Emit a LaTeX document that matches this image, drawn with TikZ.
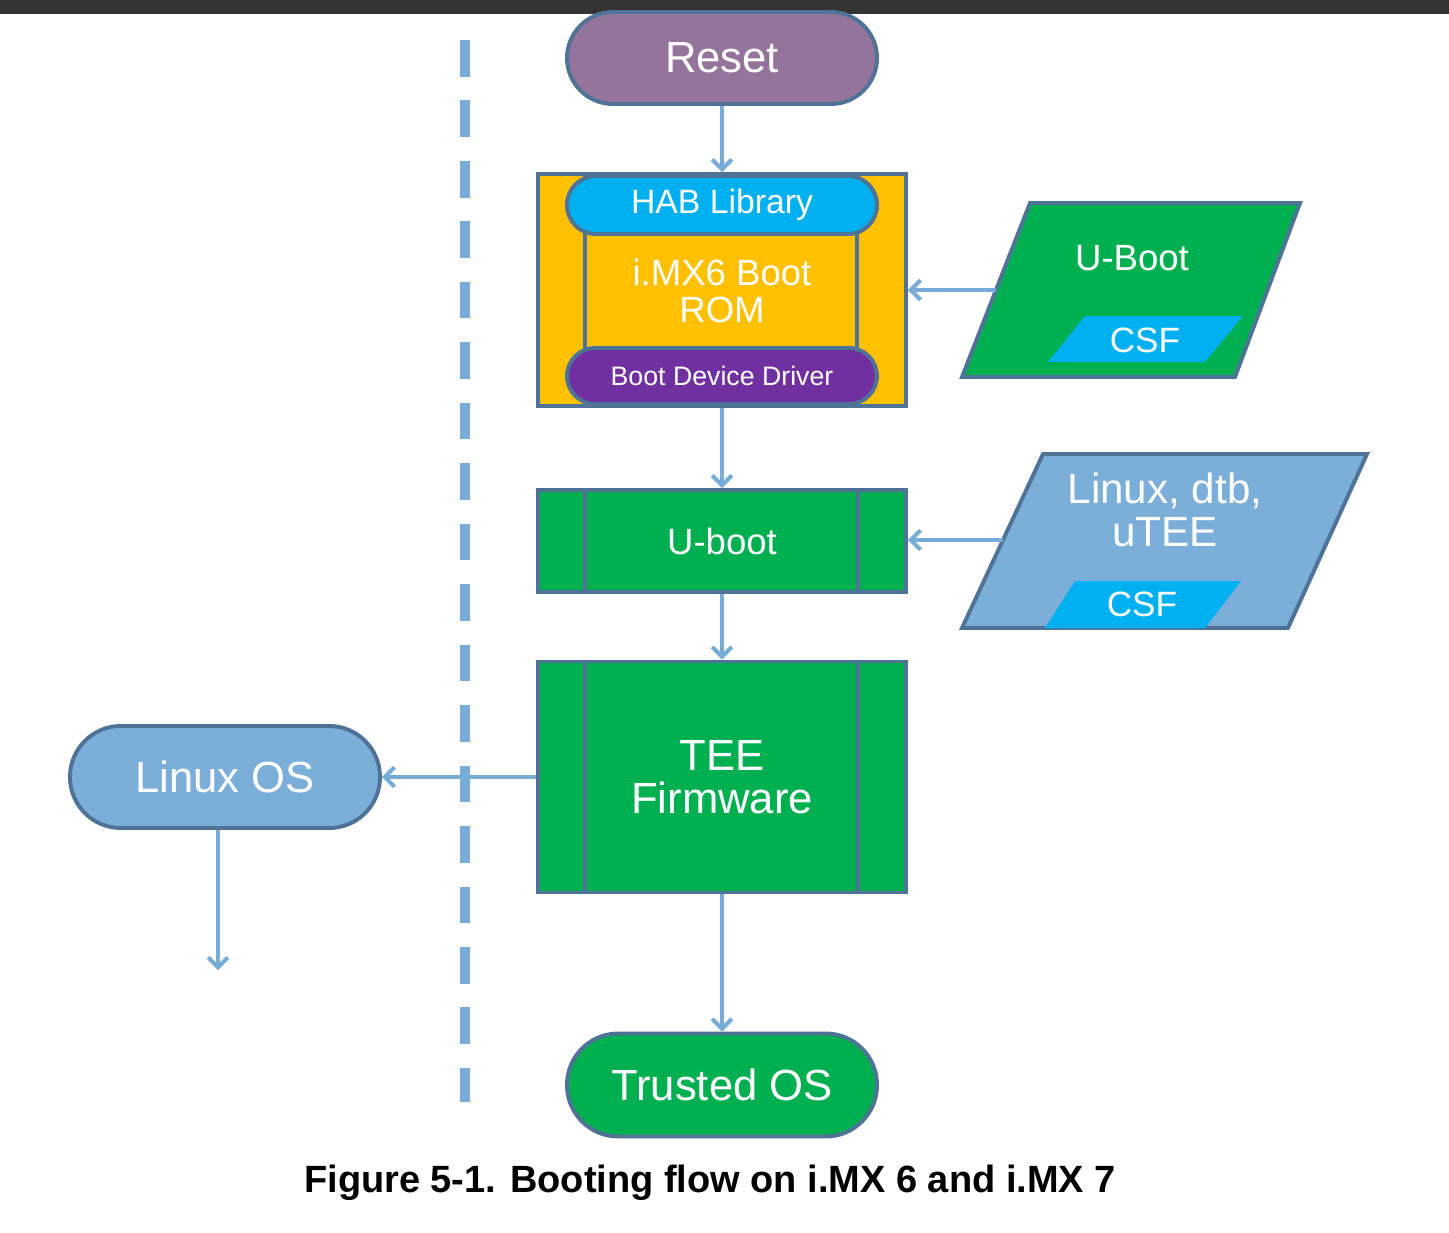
\documentclass[tikz,border=0pt]{standalone}
\usepackage{fontspec}
\setmainfont{Liberation Sans}
\usetikzlibrary{arrows.meta}
\definecolor{edge}{HTML}{4F7397}
\definecolor{arr}{HTML}{78ACD8}
\definecolor{purp}{HTML}{95749C}
\definecolor{gold}{HTML}{FFC000}
\definecolor{cyan}{HTML}{00B0F0}
\definecolor{viol}{HTML}{7030A0}
\definecolor{grn}{HTML}{00B050}
\definecolor{lblue}{HTML}{7BAED9}
\tikzset{
  box/.style={draw=edge, line width=2.8pt, text=white, align=center, inner sep=0pt},
  pill/.style={box, rounded corners=#1},
  flow/.style={draw=arr, line width=2.8pt, -{Straight Barb[length=7pt,width=14pt,line width=2.8pt]}},
  fsz/.style={font=\fontsize{#1}{#1*1.2}\selectfont}
}
\begin{document}
\begin{tikzpicture}[x=0.025cm,y=-0.025cm]
\useasboundingbox (0,0) rectangle (1449,1232);
\fill[white] (0,0) rectangle (1449,1232);
\fill[black!80] (0,0) rectangle (1449,14);
% dashed divider
\draw[arr, line width=7pt, dash pattern=on 26pt off 17pt] (465,40) -- (465,1102);

\node[pill=1.15cm, fill=purp, minimum width=310*0.025cm, minimum height=92*0.025cm, fsz=31pt] (reset) at (722,58) {Reset};

% boot rom
\node[box, fill=gold, minimum width=368*0.025cm, minimum height=232*0.025cm] (rom) at (722,290) {};
\draw[edge, line width=2.8pt] (585,176) -- (585,404) (857,176) -- (857,404);
\node[pill=0.72cm, fill=cyan, minimum width=310*0.025cm, minimum height=58*0.025cm, fsz=24pt] (hab) at (722,205) {HAB Library};
\node[pill=0.7cm, fill=viol, minimum width=310*0.025cm, minimum height=56*0.025cm, fsz=19pt] (bdd) at (722,376) {Boot Device Driver};
\node[text=white, align=center, fsz=26pt] (romt) at (722,291) {i.MX6 Boot\\ROM};

% u-boot image
\draw[edge, line width=2.8pt, fill=grn] (962,377) -- (1030,203) -- (1300,203) -- (1235,377) -- cycle;
\fill[cyan] (1048,362) -- (1085,316) -- (1243,316) -- (1205,362) -- cycle;
\node[text=white, fsz=26pt] (ubt) at (1132,258) {U-Boot};
\node[text=white, fsz=25pt] (csf1) at (1145,340) {CSF};
\coordinate (ubin) at (996,290);

% u-boot box
\node[box, fill=grn, minimum width=368*0.025cm, minimum height=102*0.025cm, fsz=26pt] (uboot) at (722,541) {U-boot};
\draw[edge, line width=2.8pt] (585,490) -- (585,592) (858,490) -- (858,592);

% linux image
\draw[edge, line width=2.8pt, fill=lblue] (962,628) -- (1043,454) -- (1367,454) -- (1288,628) -- cycle;
\fill[cyan] (1045,628) -- (1075,581) -- (1241,581) -- (1205,628) -- cycle;
\node[text=white, align=center, fsz=30pt] (lxt) at (1165,510) {Linux, dtb,\\uTEE};
\node[text=white, fsz=25pt] (csf2) at (1142,604) {CSF};
\coordinate (lxin) at (1003,540);

% TEE
\node[box, fill=grn, minimum width=368*0.025cm, minimum height=231*0.025cm, fsz=31pt] (tee) at (722,777) {TEE\\Firmware};
\draw[edge, line width=2.8pt] (585,662) -- (585,892) (858,662) -- (858,892);

\node[pill=1.27cm, fill=lblue, minimum width=310*0.025cm, minimum height=102*0.025cm, fsz=31pt] (linux) at (225,777) {Linux OS};
\node[pill=1.28cm, fill=grn, minimum width=310*0.025cm, minimum height=103*0.025cm, fsz=31pt] (tos) at (722,1085) {Trusted OS};
\coordinate (lxend) at (218,970);

\draw[flow] (reset) -- (rom);
\draw[flow] (ubin) -- (rom.east |- ubin);
\draw[flow] (rom) -- (uboot);
\draw[flow] (lxin) -- (uboot.east |- lxin);
\draw[flow] (uboot) -- (tee);
\draw[flow] (tee) -- (linux);
\draw[flow] (linux.south -| lxend) -- (lxend);
\draw[flow] (tee) -- (tos);

\node[font=\bfseries\fontsize{27pt}{32pt}\selectfont] (cap) at (710,1183) {Figure 5-1. Booting flow on i.MX 6 and i.MX 7};
\end{tikzpicture}
\end{document}
